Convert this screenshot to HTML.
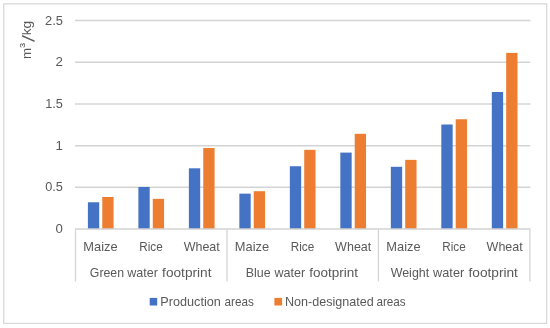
<!DOCTYPE html>
<html lang="en"><head><meta charset="utf-8"><title>Water footprint chart</title>
<style>
html,body{margin:0;padding:0;background:#fff;}
body{width:550px;height:328px;overflow:hidden;}
svg{display:block;}
text{font-family:"Liberation Sans",Arial,sans-serif;fill:#595959;}
</style></head><body>
<svg width="550" height="328" viewBox="0 0 550 328">
<rect x="0" y="0" width="550" height="328" fill="#ffffff"/>
<rect x="3.75" y="3.85" width="542.9" height="319.55" fill="#ffffff" stroke="#d9d9d9" stroke-width="1.3"/>
<line x1="75.0" y1="187.32" x2="530.4" y2="187.32" stroke="#d4d4d4" stroke-width="1.5"/>
<line x1="75.0" y1="145.64" x2="530.4" y2="145.64" stroke="#d4d4d4" stroke-width="1.5"/>
<line x1="75.0" y1="103.96" x2="530.4" y2="103.96" stroke="#d4d4d4" stroke-width="1.5"/>
<line x1="75.0" y1="62.28" x2="530.4" y2="62.28" stroke="#d4d4d4" stroke-width="1.5"/>
<line x1="75.0" y1="20.60" x2="530.4" y2="20.60" stroke="#d4d4d4" stroke-width="1.5"/>
<rect x="87.90" y="202.26" width="11.32" height="26.74" fill="#4472c4"/>
<rect x="102.27" y="197.00" width="11.32" height="32.00" fill="#ed7d31"/>
<rect x="138.38" y="187.00" width="11.32" height="42.00" fill="#4472c4"/>
<rect x="152.76" y="198.86" width="11.32" height="30.14" fill="#ed7d31"/>
<rect x="188.87" y="168.30" width="11.32" height="60.70" fill="#4472c4"/>
<rect x="203.25" y="148.00" width="11.32" height="81.00" fill="#ed7d31"/>
<rect x="239.36" y="193.64" width="11.32" height="35.36" fill="#4472c4"/>
<rect x="253.74" y="191.20" width="11.32" height="37.80" fill="#ed7d31"/>
<rect x="289.85" y="166.25" width="11.32" height="62.75" fill="#4472c4"/>
<rect x="304.23" y="149.80" width="11.32" height="79.20" fill="#ed7d31"/>
<rect x="340.34" y="152.60" width="11.32" height="76.40" fill="#4472c4"/>
<rect x="354.72" y="133.80" width="11.32" height="95.20" fill="#ed7d31"/>
<rect x="390.83" y="166.80" width="11.32" height="62.20" fill="#4472c4"/>
<rect x="405.21" y="159.87" width="11.32" height="69.13" fill="#ed7d31"/>
<rect x="441.32" y="124.50" width="11.32" height="104.50" fill="#4472c4"/>
<rect x="455.69" y="119.25" width="11.32" height="109.75" fill="#ed7d31"/>
<rect x="491.81" y="92.00" width="11.32" height="137.00" fill="#4472c4"/>
<rect x="506.18" y="52.90" width="11.32" height="176.10" fill="#ed7d31"/>
<line x1="75.0" y1="229.00" x2="530.4" y2="229.00" stroke="#d2d2d2" stroke-width="1.3"/>
<line x1="75.50" y1="229.00" x2="75.50" y2="281.4" stroke="#d5d5d5" stroke-width="1.3"/>
<line x1="226.97" y1="229.00" x2="226.97" y2="281.4" stroke="#d5d5d5" stroke-width="1.3"/>
<line x1="378.43" y1="229.00" x2="378.43" y2="281.4" stroke="#d5d5d5" stroke-width="1.3"/>
<line x1="529.90" y1="229.00" x2="529.90" y2="281.4" stroke="#d5d5d5" stroke-width="1.3"/>
<text x="55.59" y="233.10" font-size="12.1" textLength="7.33" lengthAdjust="spacingAndGlyphs">0</text>
<text x="45.20" y="191.42" font-size="12.1" textLength="17.73" lengthAdjust="spacingAndGlyphs">0.5</text>
<text x="55.59" y="149.74" font-size="12.1" textLength="7.35" lengthAdjust="spacingAndGlyphs">1</text>
<text x="45.23" y="108.06" font-size="12.1" textLength="17.70" lengthAdjust="spacingAndGlyphs">1.5</text>
<text x="55.53" y="66.38" font-size="12.1" textLength="7.45" lengthAdjust="spacingAndGlyphs">2</text>
<text x="45.05" y="24.70" font-size="12.1" textLength="17.89" lengthAdjust="spacingAndGlyphs">2.5</text>
<text x="83.37" y="250.6" font-size="12.1" textLength="34.27" lengthAdjust="spacingAndGlyphs">Maize</text>
<text x="139.27" y="250.6" font-size="12.1" textLength="23.48" lengthAdjust="spacingAndGlyphs">Rice</text>
<text x="183.67" y="250.6" font-size="12.1" textLength="36.15" lengthAdjust="spacingAndGlyphs">Wheat</text>
<text x="234.83" y="250.6" font-size="12.1" textLength="34.27" lengthAdjust="spacingAndGlyphs">Maize</text>
<text x="290.74" y="250.6" font-size="12.1" textLength="23.48" lengthAdjust="spacingAndGlyphs">Rice</text>
<text x="335.13" y="250.6" font-size="12.1" textLength="36.15" lengthAdjust="spacingAndGlyphs">Wheat</text>
<text x="386.30" y="250.6" font-size="12.1" textLength="34.27" lengthAdjust="spacingAndGlyphs">Maize</text>
<text x="442.20" y="250.6" font-size="12.1" textLength="23.48" lengthAdjust="spacingAndGlyphs">Rice</text>
<text x="486.60" y="250.6" font-size="12.1" textLength="36.15" lengthAdjust="spacingAndGlyphs">Wheat</text>
<text y="276.6" font-size="12.1"><tspan x="89.83" textLength="34.17" lengthAdjust="spacingAndGlyphs">Green</tspan> <tspan x="127.22" textLength="30.69" lengthAdjust="spacingAndGlyphs">water</tspan> <tspan x="162.11" textLength="49.39" lengthAdjust="spacingAndGlyphs">footprint</tspan></text>
<text y="276.6" font-size="12.1"><tspan x="245.78" textLength="24.87" lengthAdjust="spacingAndGlyphs">Blue</tspan> <tspan x="274.52" textLength="30.69" lengthAdjust="spacingAndGlyphs">water</tspan> <tspan x="309.31" textLength="48.79" lengthAdjust="spacingAndGlyphs">footprint</tspan></text>
<text y="276.6" font-size="12.1"><tspan x="390.70" textLength="38.49" lengthAdjust="spacingAndGlyphs">Weight</tspan> <tspan x="433.12" textLength="31.09" lengthAdjust="spacingAndGlyphs">water</tspan> <tspan x="468.51" textLength="49.39" lengthAdjust="spacingAndGlyphs">footprint</tspan></text>
<rect x="149.7" y="297.9" width="7.5" height="7.6" fill="#4472c4"/>
<text y="305.6" font-size="12.1"><tspan x="160.36" textLength="60.46" lengthAdjust="spacingAndGlyphs">Production</tspan> <tspan x="224.50" textLength="29.32" lengthAdjust="spacingAndGlyphs">areas</tspan></text>
<rect x="274.4" y="297.9" width="7.7" height="7.6" fill="#ed7d31"/>
<text y="305.6" font-size="12.1"><tspan x="284.97" textLength="88.74" lengthAdjust="spacingAndGlyphs">Non-designated</tspan> <tspan x="376.40" textLength="29.32" lengthAdjust="spacingAndGlyphs">areas</tspan></text>
<text transform="translate(31.3,58.1) rotate(-90)" font-size="12.1"><tspan x="-0.88" y="0" font-size="12.1" textLength="11.06" lengthAdjust="spacingAndGlyphs">m</tspan><tspan x="10.47" y="-6.1" font-size="7.2" textLength="4.81" lengthAdjust="spacingAndGlyphs" stroke="#595959" stroke-width="0.15">3</tspan><tspan x="16.0" y="2.9" font-size="18" rotate="9">/</tspan><tspan x="22.78" y="0" font-size="12.6" textLength="14.40" lengthAdjust="spacingAndGlyphs">kg</tspan></text>
</svg>
</body></html>
